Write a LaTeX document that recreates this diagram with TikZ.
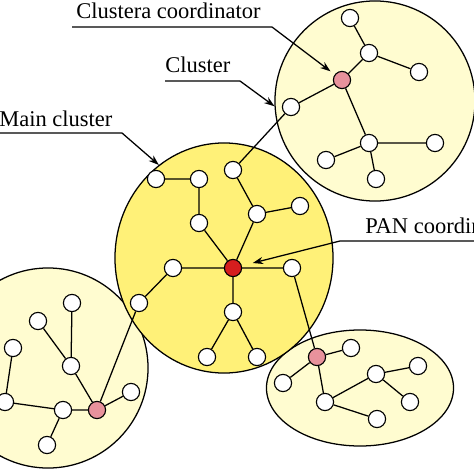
\documentclass[tikz,border=0pt]{standalone}
\usepackage{fontspec}
\setmainfont{Liberation Serif}
\usetikzlibrary{shapes.geometric,arrows.meta}
\definecolor{mainYellow}{RGB}{255, 241, 120}
\definecolor{paleYellow}{RGB}{255, 252, 208}
\definecolor{coordPink}{RGB}{232, 146, 156}
\definecolor{panRed}{RGB}{214, 30, 30}

\begin{document}
\begin{tikzpicture}[x=0.025cm, y=-0.025cm,
  dev/.style={circle, draw, line width=0.8pt, fill=white, minimum size=4.3mm, inner sep=0pt},
  clcoord/.style={dev, fill=coordPink},
  pancoord/.style={dev, fill=panRed},
  link/.style={line width=0.9pt},
  pointer/.style={line width=0.9pt, -{Stealth[length=2.6mm, width=1.8mm]}},
  lbl/.style={anchor=base west, inner sep=0pt, font=\fontsize{16}{18}\selectfont},
  clusterbg/.style={ellipse, draw, line width=0.9pt, inner sep=0pt}]
\clip (0,0) rectangle (474,474);
\useasboundingbox (0,0) rectangle (474,474);

% Cluster areas
\node[clusterbg, fill=paleYellow, minimum width=5cm, minimum height=5cm] (leftCl) at (48,368) {};
\node[clusterbg, fill=paleYellow, minimum width=5cm, minimum height=5cm] (topCl) at (375,101) {};
\node[clusterbg, fill=paleYellow, minimum width=4.675cm, minimum height=2.9cm] (rightCl) at (360,388) {};
\node[clusterbg, fill=mainYellow, minimum width=5.45cm, minimum height=5.75cm] (mainCl) at (224,258) {};

% Main cluster
\node[pancoord] (pan) at (233,268) {};
\node[dev] (m1) at (156,179) {};
\node[dev] (m2) at (199,179) {};
\node[dev] (m3) at (199,223) {};
\node[dev] (m4) at (233,170) {};
\node[dev] (m5) at (257,214) {};
\node[dev] (m6) at (300,206) {};
\node[dev] (m7) at (173,268) {};
\node[dev] (m8) at (139,303) {};
\node[dev] (m9) at (292,268) {};
\node[dev] (m10) at (233,312) {};
\node[dev] (m11) at (207,357) {};
\node[dev] (m12) at (257,357) {};

% Top cluster
\node[clcoord] (tc) at (342,80) {};
\node[dev] (t1) at (350,18) {};
\node[dev] (t2) at (369,53) {};
\node[dev] (t3) at (419,72) {};
\node[dev] (t4) at (291,107) {};
\node[dev] (t5) at (369,143) {};
\node[dev] (t6) at (435,143) {};
\node[dev] (t7) at (326,160) {};
\node[dev] (t8) at (376,179) {};

% Left cluster
\node[clcoord] (lc) at (97,410) {};
\node[dev] (l1) at (72,303) {};
\node[dev] (l2) at (38,321) {};
\node[dev] (l3) at (13,348) {};
\node[dev] (l4) at (71,366) {};
\node[dev] (l5) at (5,402) {};
\node[dev] (l6) at (63,410) {};
\node[dev] (l7) at (47,445) {};
\node[dev] (l8) at (131,392) {};

% Right cluster
\node[clcoord] (rc) at (317,357) {};
\node[dev] (r1) at (351,348) {};
\node[dev] (r2) at (283,383) {};
\node[dev] (r3) at (325,402) {};
\node[dev] (r4) at (376,374) {};
\node[dev] (r5) at (418,366) {};
\node[dev] (r6) at (410,402) {};
\node[dev] (r7) at (377,419) {};

% Links
\draw[link] (m1) -- (m2) -- (m3) -- (pan);
\draw[link] (m4) -- (m5) -- (pan);
\draw[link] (m5) -- (m6);
\draw[link] (m8) -- (m7) -- (pan) -- (m9);
\draw[link] (pan) -- (m10) -- (m11);
\draw[link] (m10) -- (m12);
\draw[link] (m4) -- (t4) -- (tc) -- (t2) -- (t1);
\draw[link] (t2) -- (t3);
\draw[link] (tc) -- (t5) -- (t6);
\draw[link] (t7) -- (t5) -- (t8);
\draw[link] (m8) -- (lc) -- (l4) -- (l1);
\draw[link] (l2) -- (l4);
\draw[link] (l3) -- (l5) -- (l6) -- (lc) -- (l8);
\draw[link] (l6) -- (l7);
\draw[link] (m9) -- (rc) -- (r1);
\draw[link] (r2) -- (rc) -- (r3) -- (r4) -- (r5);
\draw[link] (r3) -- (r7);
\draw[link] (r4) -- (r6);

% Labels
\node[lbl] (lblCoord) at (76,18) {Clustera coordinator};
\node[lbl] (lblCluster) at (165,72) {Cluster};
\node[lbl] (lblMain) at (-1,126) {Main cluster};
\node[lbl] (lblPan) at (365,233) {PAN coordinator};
\coordinate (coordStart) at (72,27);
\coordinate (coordBend) at (272,27);
\coordinate (clusterStart) at (165,81);
\coordinate (clusterBend) at (240,81);
\coordinate (mainStart) at (0,133);
\coordinate (mainBend) at (122,133);
\coordinate (panStart) at (474,241);
\coordinate (panBend) at (340,241);
\draw[pointer, shorten >=1.3mm] (coordStart) -- (coordBend) -- (tc);
\draw[pointer] (clusterStart) -- (clusterBend) -- (topCl.183);
\draw[pointer] (mainStart) -- (mainBend) -- (mainCl.125);
\draw[pointer, shorten >=2.8mm] (panStart) -- (panBend) -- (pan);
\end{tikzpicture}
\end{document}
